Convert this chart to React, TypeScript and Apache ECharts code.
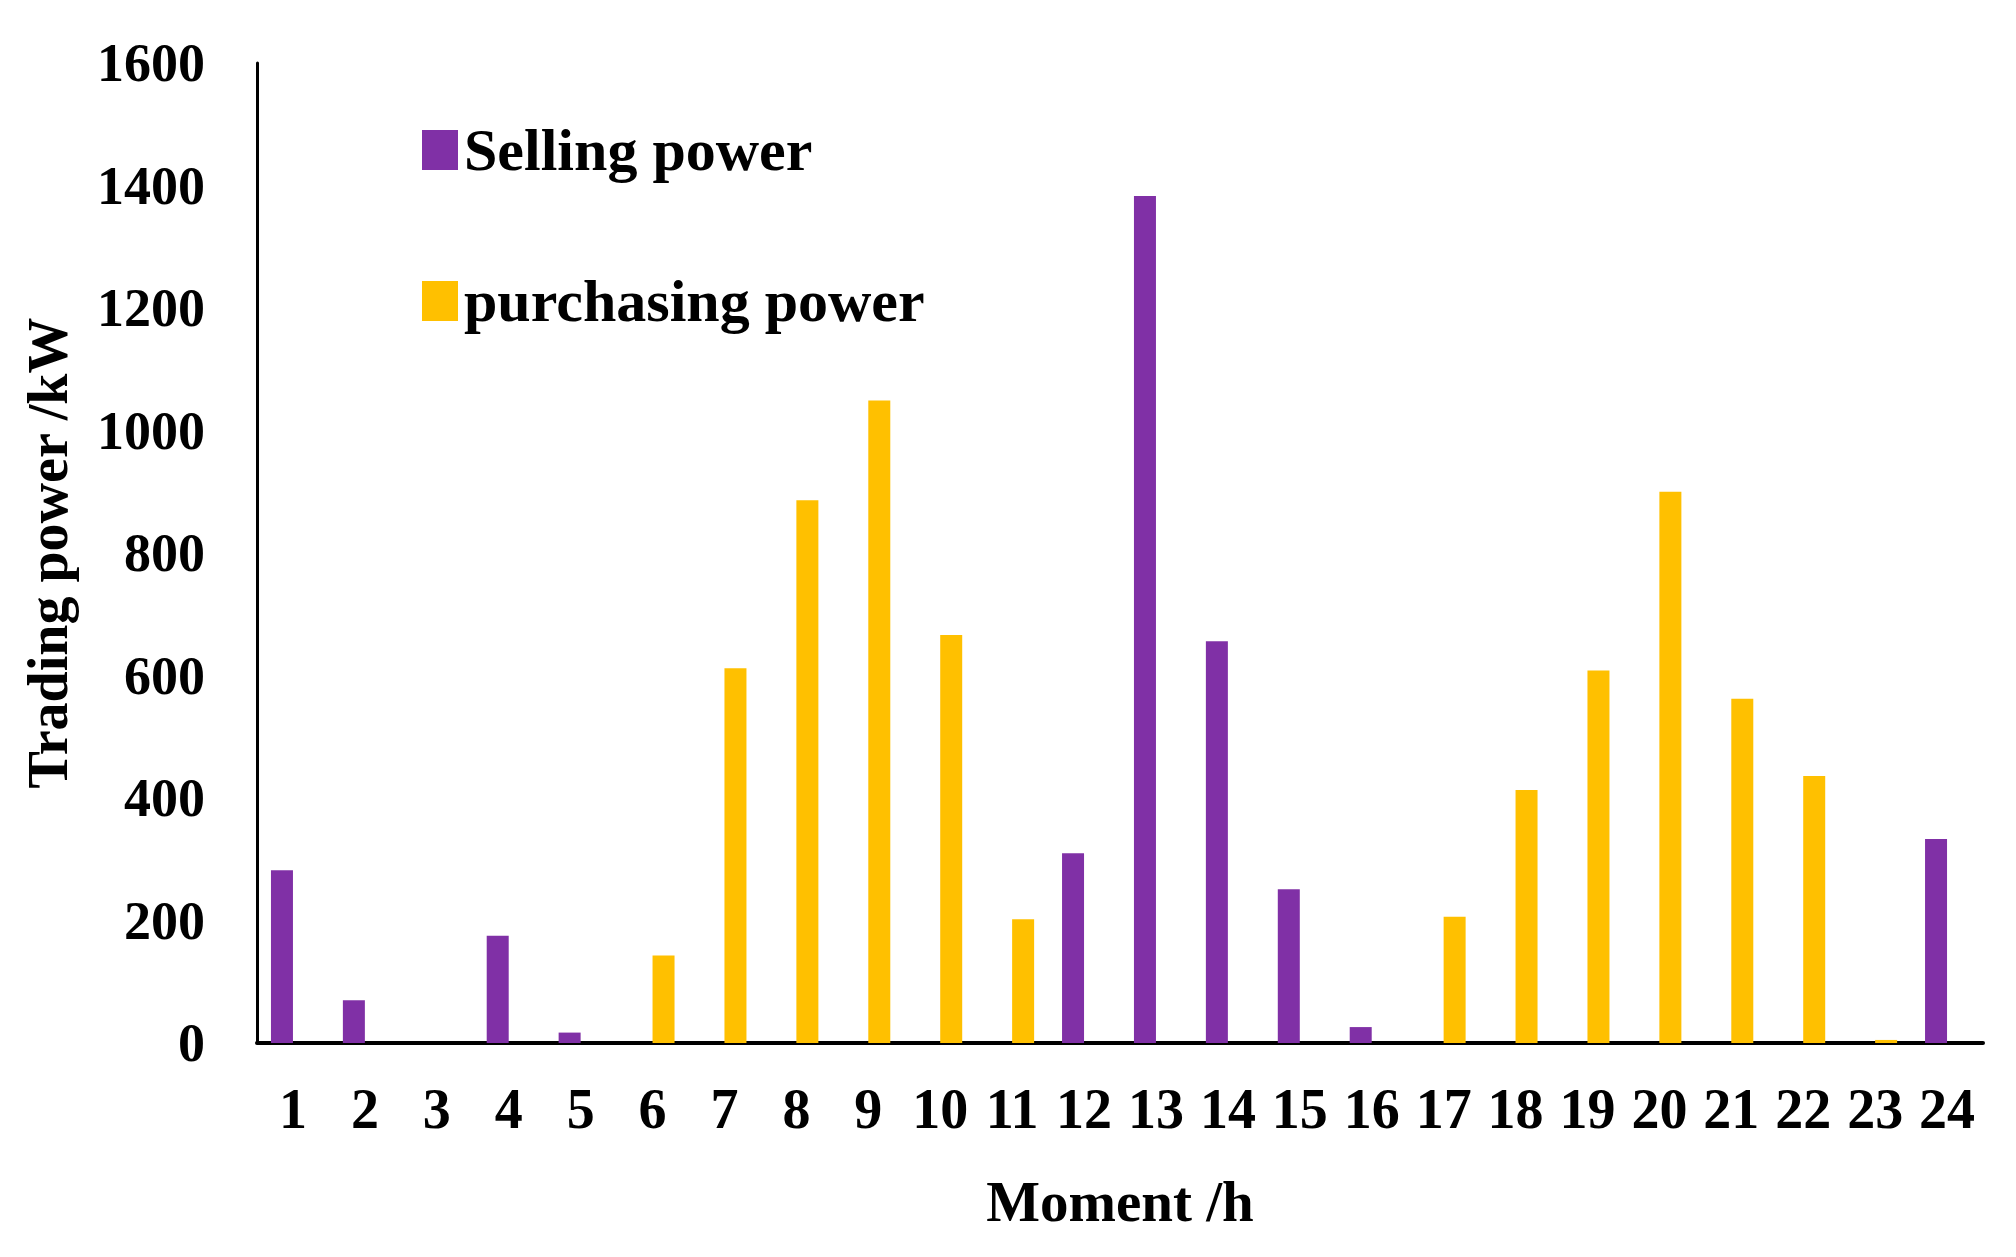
import React, { useEffect, useRef } from "react";
import * as echarts from "echarts";

const hours: string[] = [
  "1", "2", "3", "4", "5", "6", "7", "8", "9", "10", "11", "12",
  "13", "14", "15", "16", "17", "18", "19", "20", "21", "22", "23", "24",
];

const sellingPower: number[] = [
  282, 70, 0, 175, 17, 0, 0, 0, 0, 0, 0, 310,
  1383, 656, 251, 26, 0, 0, 0, 0, 0, 0, 0, 333,
];

const purchasingPower: number[] = [
  0, 0, 0, 0, 0, 143, 612, 886, 1049, 666, 202, 0,
  0, 0, 0, 0, 206, 413, 608, 900, 562, 436, 5, 0,
];

const yMin = 0;
const yMax = 1600;
const yInterval = 200;

const seriesNames = ["Selling power", "purchasing power"];
const xTitle = "Moment /h";
const yTitle = "Trading power /kW";

const FONT = "'Liberation Serif', 'Times New Roman', serif";

export default function App() {
  const ref = useRef<HTMLDivElement>(null);

  useEffect(() => {
    if (!ref.current) return;
    const chart = echarts.init(ref.current, undefined, { renderer: "svg" });
    chart.setOption({
      animation: false,
      backgroundColor: "#ffffff",
      textStyle: { fontFamily: FONT },
      grid: { left: 257, right: 33, top: 63, bottom: 214, containLabel: false },
      legend: {
        orient: "vertical",
        left: 417,
        top: 115,
        itemWidth: 36,
        itemHeight: 40,
        itemGap: 91,
        icon: "rect",
        data: seriesNames,
        textStyle: {
          fontFamily: FONT,
          fontWeight: "bold",
          fontSize: 60,
          color: "#000",
          lineHeight: 60,
          padding: [0, 0, 0, 1],
        },
      },
      xAxis: {
        type: "category",
        data: hours,
        name: xTitle,
        nameLocation: "middle",
        nameGap: 130,
        nameTextStyle: { fontFamily: FONT, fontWeight: "bold", fontSize: 57, color: "#000" },
        axisLine: { show: true, lineStyle: { color: "#000", width: 4 } },
        axisTick: { show: false },
        axisLabel: {
          fontFamily: FONT,
          fontWeight: "bold",
          fontSize: 56,
          color: "#000",
          margin: 38,
          interval: 0,
        },
        splitLine: { show: false },
      },
      yAxis: {
        type: "value",
        min: yMin,
        max: yMax,
        interval: yInterval,
        name: yTitle,
        nameLocation: "middle",
        nameGap: 181,
        nameTextStyle: { fontFamily: FONT, fontWeight: "bold", fontSize: 56, color: "#000" },
        axisLine: { show: true, lineStyle: { color: "#000", width: 3 } },
        axisTick: { show: false },
        axisLabel: {
          fontFamily: FONT,
          fontWeight: "bold",
          fontSize: 54,
          color: "#000",
          margin: 52,
          formatter: (v: number) => String(v),
        },
        splitLine: { show: false },
      },
      series: [
        {
          name: seriesNames[0],
          type: "bar",
          data: sellingPower,
          barWidth: 22,
          barGap: "0%",
          itemStyle: { color: "#8030A6" },
        },
        {
          name: seriesNames[1],
          type: "bar",
          data: purchasingPower,
          barWidth: 22,
          barGap: "0%",
          itemStyle: { color: "#FFC000" },
        },
      ],
    });
    return () => chart.dispose();
  }, []);

  return (
    <div
      ref={ref}
      style={{ position: "fixed", left: 0, top: 0, width: 2016, height: 1257, background: "#fff" }}
    />
  );
}
